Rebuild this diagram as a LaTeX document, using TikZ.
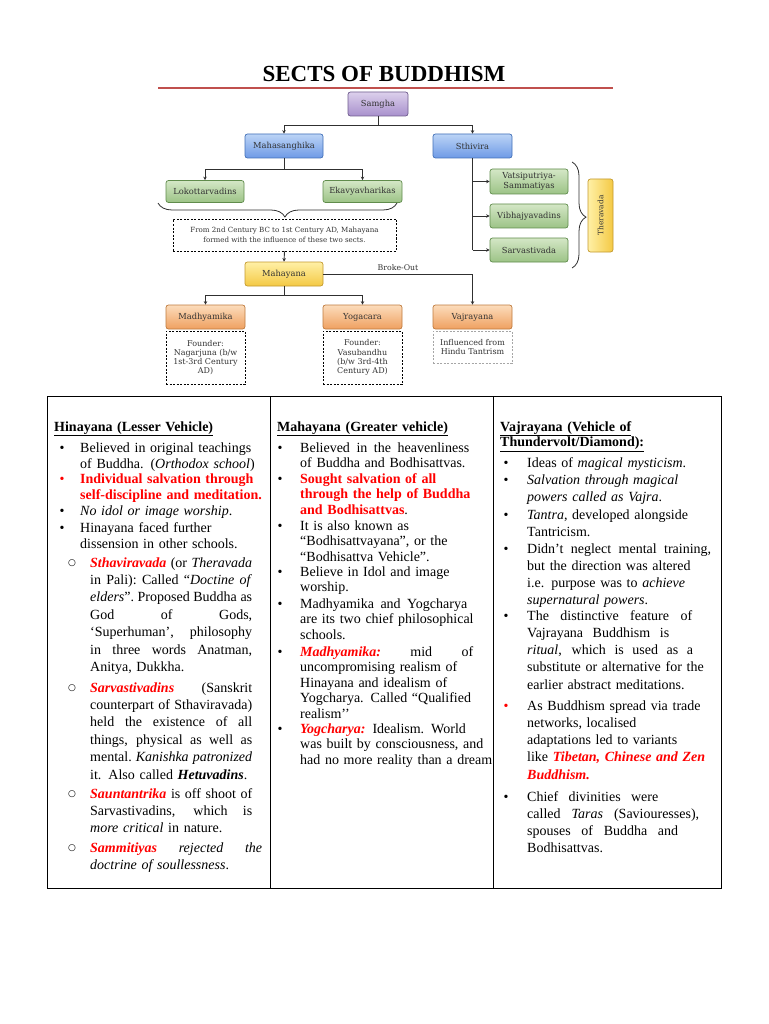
\documentclass[tikz,border=0pt]{standalone}
\usepackage{fontspec}
\setmainfont{Liberation Serif}
\newfontfamily\symf{DejaVu Sans}
\newfontfamily\chartf{DejaVu Serif}
\usetikzlibrary{decorations.pathreplacing,arrows.meta}
\definecolor{titlered}{HTML}{C0504D}
\definecolor{linegray}{HTML}{303030}
\definecolor{boxtext}{HTML}{333333}
\definecolor{pTop}{HTML}{DCD0EC}\definecolor{pBot}{HTML}{A890CC}\definecolor{pDr}{HTML}{6F5C8E}
\definecolor{bTop}{HTML}{BCD4F6}\definecolor{bBot}{HTML}{6E9AE6}\definecolor{bDr}{HTML}{4270B8}
\definecolor{gTop}{HTML}{D4E7C6}\definecolor{gBot}{HTML}{9CC386}\definecolor{gDr}{HTML}{608C4C}
\definecolor{yTop}{HTML}{FFF0A6}\definecolor{yBot}{HTML}{F4C944}\definecolor{yDr}{HTML}{C49A2E}
\definecolor{oTop}{HTML}{FCDCBC}\definecolor{oBot}{HTML}{EFA060}\definecolor{oDr}{HTML}{BF7B3E}
\newcommand{\J}[2]{\leavevmode\hbox to #1pt{\spaceskip=0.25em plus 1fil\xspaceskip=0.25em plus 1fil\relax #2}}
\newcommand{\rb}[1]{\textcolor{red}{\textbf{#1}}}
\newcommand{\rbi}[1]{\textcolor{red}{\textbf{\textit{#1}}}}
\tikzset{
  chartbox/.style={rounded corners=2.5pt, line width=0.7pt, inner sep=0pt, align=center,
     text=boxtext, font=\chartf\fontsize{8.3}{9.5}\selectfont},
  sbox/.style={chartbox, draw=pDr, top color=pTop, bottom color=pBot},
  bbox/.style={chartbox, draw=bDr, top color=bTop, bottom color=bBot},
  gbox/.style={chartbox, draw=gDr, top color=gTop, bottom color=gBot},
  ybox/.style={chartbox, draw=yDr, top color=yTop, bottom color=yBot},
  obox/.style={chartbox, draw=oDr, top color=oTop, bottom color=oBot},
  notebox/.style={draw=black, line width=0.8pt, dash pattern=on 2pt off 1.5pt, inner sep=0pt,
     align=center, fill=white, text=boxtext, font=\chartf\fontsize{8}{9.2}\selectfont},
  conn/.style={draw=linegray, line width=0.9pt},
  arr/.style={conn, -{Stealth[length=3.5pt,width=3.5pt]}},
  txt/.style={anchor=base west, inner sep=0pt, align=left, text width=260pt},
  bul/.style={anchor=base, inner sep=0pt},
}
\begin{document}
\begin{tikzpicture}[x=1pt,y=-1pt]
\useasboundingbox[fill=white] (0,0) rectangle (768,1024);

% title
\node[inner sep=0pt, font=\fontsize{23}{23}\selectfont\bfseries] (title) at (384,74) {SECTS OF BUDDHISM};
\coordinate (rl1) at (158,88); \coordinate (rl2) at (613,88);
\draw[titlered, line width=1.6pt] (rl1) -- (rl2);

% chart boxes
\node[sbox, minimum width=60pt, minimum height=24pt] (samgha) at (378,104) {Samgha};
\node[bbox, minimum width=78pt, minimum height=24pt] (maha) at (284,146) {Mahasanghika};
\node[bbox, minimum width=79pt, minimum height=24pt] (sthi) at (472.5,146) {Sthivira};
\node[gbox, minimum width=78pt, minimum height=22pt] (lok) at (205,191.5) {Lokottarvadins};
\node[gbox, minimum width=79pt, minimum height=22pt] (eka) at (362.5,191.5) {Ekavyavharikas};
\node[notebox, minimum width=223pt, minimum height=32pt, font=\chartf\fontsize{7.1}{10}\selectfont] (note) at (284.5,235)
  {From 2nd Century BC to 1st Century AD, Mahayana\\formed with the influence of these two sects.};
\node[ybox, minimum width=78pt, minimum height=24pt] (mahay) at (284,274) {Mahayana};
\node[gbox, minimum width=78pt, minimum height=25pt] (vats) at (529,181.5) {Vatsiputriya-\\Sammatiyas};
\node[gbox, minimum width=78pt, minimum height=24pt] (vibh) at (529,216) {Vibhajyavadins};
\node[gbox, minimum width=78pt, minimum height=24pt] (sarv) at (529,250) {Sarvastivada};
\node[chartbox, draw=yDr, left color=yTop, right color=yBot, rotate=90, minimum width=73pt, minimum height=25pt,
      font=\chartf\fontsize{7.5}{7.5}\selectfont] (thera) at (600.5,215.5) {Theravada};
\node[obox, minimum width=79pt, minimum height=24pt] (madh) at (205.5,317) {Madhyamika};
\node[obox, minimum width=79pt, minimum height=24pt] (yoga) at (362.5,317) {Yogacara};
\node[obox, minimum width=79pt, minimum height=24pt] (vajra) at (472.5,317) {Vajrayana};
\node[notebox, minimum width=79pt, minimum height=53pt] (madhn) at (205.5,357.5)
  {Founder:\\Nagarjuna (b/w\\1st-3rd Century\\AD)};
\node[notebox, minimum width=79pt, minimum height=53pt] (yogan) at (362.5,357.5)
  {Founder:\\Vasubandhu\\(b/w 3rd-4th\\Century AD)};
\node[notebox, draw=gray!70, minimum width=79pt, minimum height=32pt] (vajran) at (472.5,347)
  {Influenced from\\Hindu Tantrism};

% connectors
\coordinate (j1) at (378,125);
\draw[conn] (samgha.south) -- (j1);
\draw[arr] (j1) -| (maha.north);
\draw[arr] (j1) -| (sthi.north);
\coordinate (j2) at (284,169);
\draw[conn] (maha.south) -- (j2);
\draw[arr] (j2) -| (lok.north);
\draw[arr] (j2) -| (eka.north);
\draw[arr] (note.south) -- (mahay.north);
\coordinate (j3) at (472.5,250);
\draw[conn] (sthi.south) -- (j3);
\draw[arr] (vats.west -| j3) -- (vats.west);
\draw[arr] (vibh.west -| j3) -- (vibh.west);
\draw[arr] (j3) -- (sarv.west);
\draw[arr] (mahay.east) -| (vajra.north);
\node[inner sep=0pt, text=boxtext, font=\chartf\fontsize{7.8}{7.8}\selectfont] (broke) at (398,268) {Broke-Out};
\coordinate (j4) at (284,295);
\draw[conn] (mahay.south) -- (j4);
\draw[arr] (j4) -| (madh.north);
\draw[arr] (j4) -| (yoga.north);

% braces
\coordinate (b1) at (158,203); \coordinate (b2) at (397,203);
\draw[conn, line width=0.8pt, decorate, decoration={brace, amplitude=14pt, mirror, aspect=0.531}] (b1) -- (b2);
\coordinate (b3) at (572,162); \coordinate (b4) at (572,268);
\draw[conn, line width=0.8pt, decorate, decoration={brace, amplitude=14pt, aspect=0.52}] (b3) -- (b4);

% table
\coordinate (t1) at (47,396); \coordinate (t2) at (721,888);
\draw[line width=0.9pt] (t1) rectangle (t2);
\coordinate (d1a) at (270,396); \coordinate (d1b) at (270,888);
\coordinate (d2a) at (493,396); \coordinate (d2b) at (493,888);
\draw[line width=0.9pt] (d1a) -- (d1b) (d2a) -- (d2b);

\begin{scope}[every node/.append style={font=\fontsize{14}{16}\selectfont}]
% ---------- column 1
\node[txt] (h1) at (54,431) {\textbf{\underline{Hinayana (Lesser Vehicle)}}};
\node[bul] (a1b) at (62,452) {•};
\node[txt] (a1) at (80,452) {Believed in original teachings\\of Buddha. (\textit{Orthodox school})};
\node[bul, text=red] (a2b) at (62,483) {•};
\node[txt] (a2) at (80,483) {\rb{Individual salvation through}\\\rb{self-discipline and meditation.}};
\node[bul] (a3b) at (62,515) {•};
\node[txt] (a3) at (80,515) {\textit{No idol or image worship}.};
\node[bul] (a4b) at (62,532) {•};
\node[txt] (a4) at (80,532) {Hinayana faced further\\dissension in other schools.};
\end{scope}
\begin{scope}[every node/.append style={font=\fontsize{14}{17.4}\selectfont}]
\node[bul, font=\symf\fontsize{9}{9}\selectfont] (s1b) at (72,565) {○};
\node[txt] (s1) at (90,567) {\J{162}{\rbi{Sthaviravada} (or \textit{Theravada}}\\
  \J{162}{in Pali): Called “\textit{Doctine of}}\\
  \J{162}{\textit{elders}”. Proposed Buddha as}\\
  \J{162}{God of Gods,}\\
  \J{162}{‘Superhuman’, philosophy}\\
  \J{162}{in three words Anatman,}\\
  Anitya, Dukkha.};
\node[bul, font=\symf\fontsize{9}{9}\selectfont] (s2b) at (72,690) {○};
\node[txt] (s2) at (90,692) {\J{162}{\rbi{Sarvastivadins} (Sanskrit}\\
  \J{162}{counterpart of Sthaviravada)}\\
  \J{162}{held the existence of all}\\
  \J{162}{things, physical as well as}\\
  \J{162}{mental. \textit{Kanishka patronized}}\\
  it. Also called \textbf{\textit{Hetuvadins}}.};
\node[bul, font=\symf\fontsize{9}{9}\selectfont] (s3b) at (72,796) {○};
\node[txt] (s3) at (90,798) {\J{162}{\rbi{Sauntantrika} is off shoot of}\\
  \J{162}{Sarvastivadins, which is}\\
  \textit{more critical} in nature.};
\node[bul, font=\symf\fontsize{9}{9}\selectfont] (s4b) at (72,850) {○};
\node[txt] (s4) at (90,852) {\J{172}{\rbi{Sammitiyas} \textit{rejected the}}\\
  \textit{doctrine of soullessness}.};
\end{scope}

% ---------- column 2
\begin{scope}[every node/.append style={font=\fontsize{14}{15.5}\selectfont}]
\node[txt] (h2) at (277,431) {\textbf{\underline{Mahayana (Greater vehicle)}}};
\node[bul] (m1b) at (280,452) {•};
\node[txt] (m1) at (300,452) {\J{169}{Believed in the heavenliness}\\of Buddha and Bodhisattvas.};
\node[bul] (m2b) at (280,483) {•};
\node[txt] (m2) at (300,483) {\rb{Sought salvation of all}\\\rb{through the help of Buddha}\\\rb{and Bodhisattvas}.};
\node[bul] (m3b) at (280,530) {•};
\node[txt] (m3) at (300,530) {It is also known as\\“Bodhisattvayana”, or the\\“Bodhisattva Vehicle”.};
\node[bul] (m4b) at (280,576) {•};
\node[txt] (m4) at (300,576) {Believe in Idol and image\\worship.};
\node[bul] (m5b) at (280,608) {•};
\node[txt] (m5) at (300,608) {\J{167}{Madhyamika and Yogcharya}\\are its two chief philosophical\\schools.};
\node[bul] (m6b) at (280,656) {•};
\node[txt] (m6) at (300,656) {\J{173}{\rbi{Madhyamika:} mid of}\\uncompromising realism of\\Hinayana and idealism of\\Yogcharya. Called “Qualified\\realism’’};
\node[bul] (m7b) at (280,733) {•};
\node[txt] (m7) at (300,733) {\rbi{Yogcharya:} Idealism. World\\was built by consciousness, and\\had no more reality than a dream};
\end{scope}

% ---------- column 3
\begin{scope}[every node/.append style={font=\fontsize{14}{15.5}\selectfont}]
\node[txt] (h3) at (500,431) {\textbf{\underline{Vajrayana (Vehicle of}}\\\textbf{\underline{Thundervolt/Diamond):}}};
\end{scope}
\begin{scope}[every node/.append style={font=\fontsize{14}{17}\selectfont}]
\node[bul] (v1b) at (506,467) {•};
\node[txt] (v1) at (527,467) {Ideas of \textit{magical mysticism}.};
\node[bul] (v2b) at (506,484) {•};
\node[txt] (v2) at (527,484) {\textit{Salvation through magical}\\\textit{powers called as Vajra}.};
\node[bul] (v3b) at (506,519) {•};
\node[txt] (v3) at (527,519) {\textit{Tantra}, developed alongside\\Tantricism.};
\node[bul] (v4b) at (506,553) {•};
\node[txt] (v4) at (527,553) {\J{184}{Didn’t neglect mental training,}\\but the direction was altered\\i.e. purpose was to \textit{achieve}\\\textit{supernatural powers}.};
\node[bul] (v5b) at (506,620) {•};
\node[txt, font=\fontsize{14}{17.3}\selectfont] (v5) at (527,620) {\J{165}{The distinctive feature of}\\\J{142}{Vajrayana Buddhism is}\\\J{166}{\textit{ritual}, which is used as a}\\substitute or alternative for the\\earlier abstract meditations.};
\node[bul, text=red] (v6b) at (506,710) {•};
\node[txt, font=\fontsize{14}{17.3}\selectfont] (v6) at (527,710) {As Buddhism spread via trade\\networks, localised\\adaptations led to variants\\like \rbi{Tibetan, Chinese and Zen}\\\rbi{Buddhism.}};
\node[bul] (v7b) at (506,801) {•};
\node[txt, font=\fontsize{14}{17.3}\selectfont] (v7) at (527,801) {\J{131}{Chief divinities were}\\\J{172}{called \textit{Taras} (Saviouresses),}\\\J{151}{spouses of Buddha and}\\Bodhisattvas.};
\end{scope}
\end{tikzpicture}
\end{document}
